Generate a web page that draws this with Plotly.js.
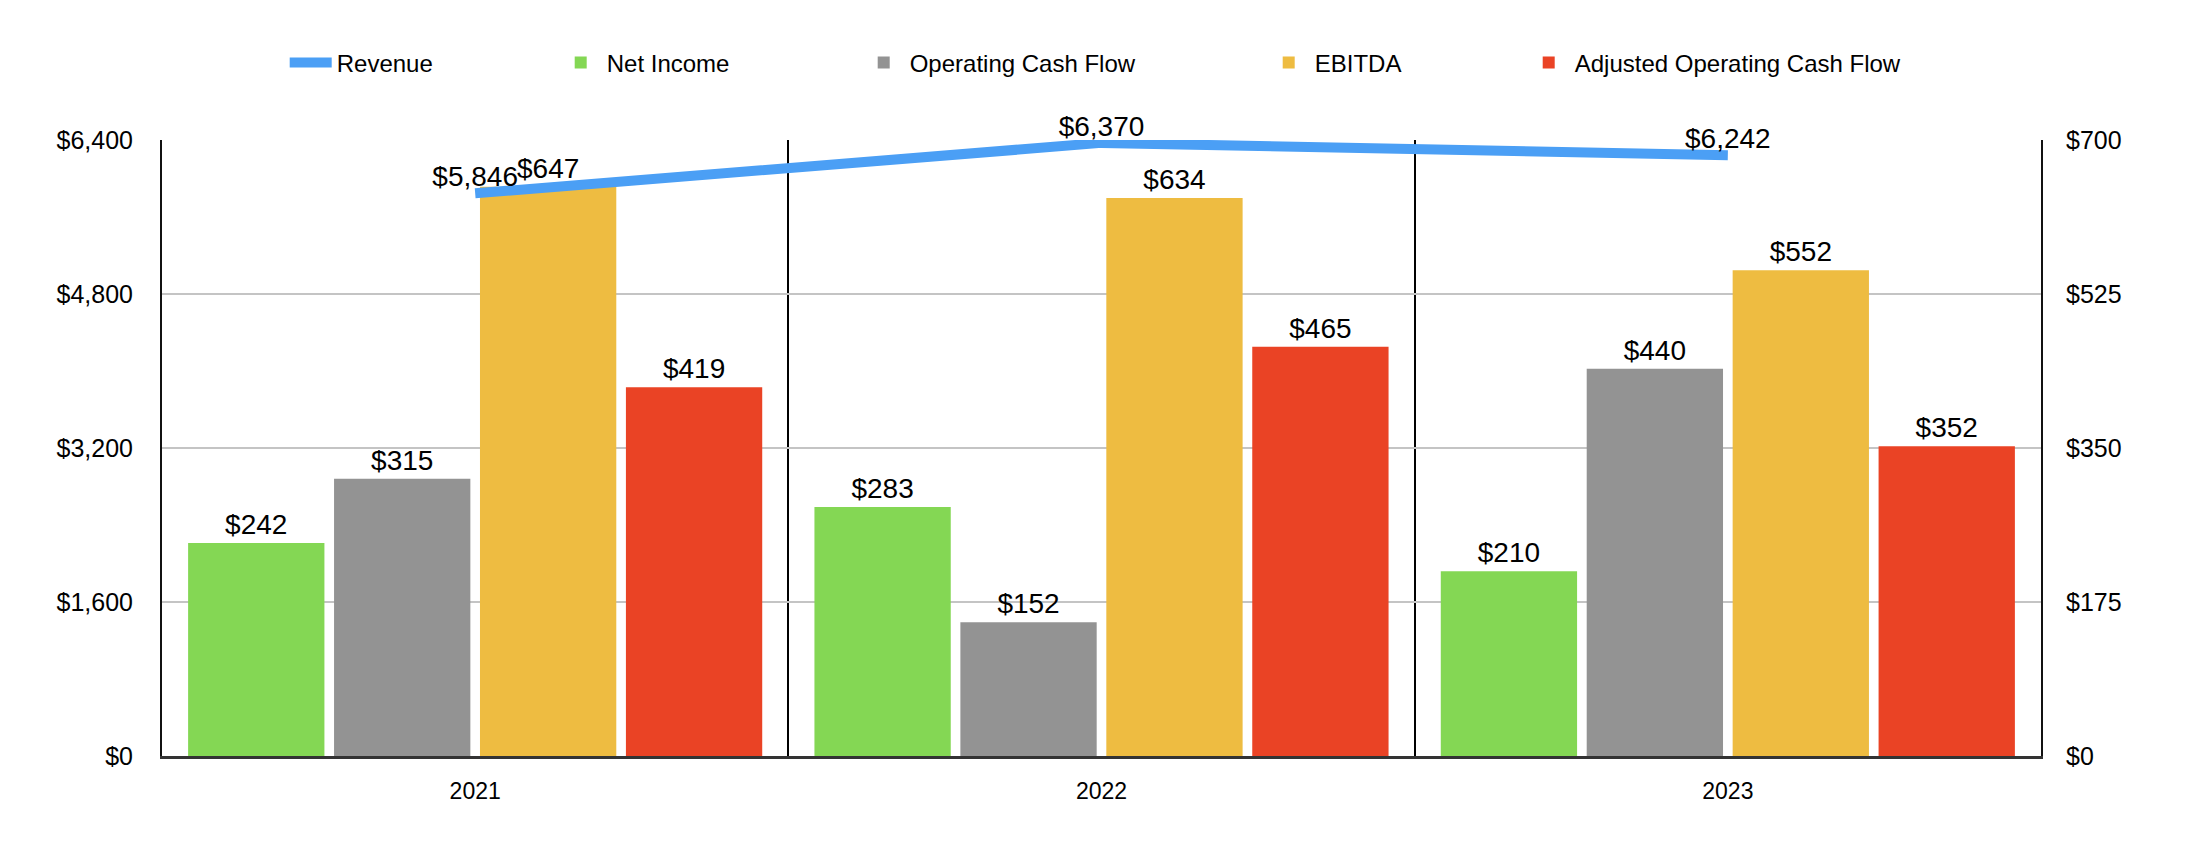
<!DOCTYPE html>
<html>
<head>
<meta charset="utf-8">
<script src="https://cdn.plot.ly/plotly-3.0.1.min.js"></script>
<style>
  body { margin: 0; background: #fff; }
  #chart { width: 2190px; height: 862px; }
</style>
</head>
<body>
<div id="chart"></div>
<script>
// valeurs (en millions de $)
var years = ['2021', '2022', '2023'];
var revenue = [5846, 6370, 6242];
var netIncome = [242, 283, 210];
var operatingCashFlow = [315, 152, 440];
var ebitda = [647, 634, 552];
var adjustedCashFlow = [419, 465, 352];

var police = 'Liberation Sans, Arial, Helvetica, sans-serif';

// une serie de barres, sur l'axe de droite
function barres(nom, valeurs, couleur, largeurLegende) {
  return {
    x: years,
    y: valeurs,
    name: nom,
    type: 'bar',
    yaxis: 'y',
    marker: { color: couleur },
    text: valeurs.map(function(v) { return '$' + v; }),
    textposition: 'outside',
    textfont: { size: 28, color: '#000', family: police },
    cliponaxis: false,
    legendwidth: largeurLegende,
    hoverinfo: 'skip'
  };
}

var ligneRevenue = {
  x: years,
  y: revenue,
  name: 'Revenue',
  type: 'scatter',
  mode: 'lines+text',
  yaxis: 'y2',
  line: { color: '#4B9FF5', width: 10 },
  text: revenue.map(function(v) { return '$' + v.toLocaleString('en-US'); }),
  textposition: 'top center',
  textfont: { size: 28, color: '#000', family: police },
  cliponaxis: false,
  legendwidth: 213,
  hoverinfo: 'skip'
};

var data = [
  ligneRevenue,
  barres('Net Income', netIncome, '#84D754', 246),
  barres('Operating Cash Flow', operatingCashFlow, '#939393', 348),
  barres('EBITDA', ebitda, '#EEBC41', 203),
  barres('Adjusted Operating Cash Flow', adjustedCashFlow, '#EA4325', 0)
];

var layout = {
  width: 2190,
  height: 862,
  margin: { l: 162, r: 149, t: 140, b: 106 },
  paper_bgcolor: '#fff',
  plot_bgcolor: '#fff',
  font: { family: police, size: 25, color: '#000' },
  barmode: 'group',
  bargap: 0.068,
  bargroupgap: 0.066,
  showlegend: true,
  legend: {
    orientation: 'h',
    xref: 'container',
    yref: 'container',
    x: 0.130,
    y: 0.927,
    xanchor: 'left',
    yanchor: 'middle',
    itemwidth: 42,
    font: { size: 24, color: '#000' },
    traceorder: 'normal'
  },
  xaxis: {
    type: 'category',
    showgrid: true,
    tickson: 'boundaries',
    gridcolor: '#000',
    gridwidth: 2,
    showline: true,
    linecolor: '#333',
    linewidth: 3,
    ticks: '',
    ticklabelstandoff: 12,
    tickfont: { size: 23 }
  },
  // axe de droite pour les barres
  yaxis: {
    side: 'right',
    range: [0, 700],
    dtick: 175,
    tickprefix: '$',
    showgrid: true,
    gridcolor: '#c4c4c4',
    gridwidth: 1.5,
    zeroline: false,
    showline: true,
    linecolor: '#111',
    linewidth: 2,
    ticks: '',
    ticklabelstandoff: 18
  },
  // axe de gauche pour le chiffre d'affaires
  yaxis2: {
    side: 'left',
    overlaying: 'y',
    range: [0, 6400],
    dtick: 1600,
    tickprefix: '$',
    tickformat: ',d',
    showgrid: false,
    zeroline: false,
    showline: true,
    linecolor: '#111',
    linewidth: 2,
    ticks: '',
    ticklabelstandoff: 22
  }
};

Plotly.newPlot('chart', data, layout, { staticPlot: true });
</script>
</body>
</html>
